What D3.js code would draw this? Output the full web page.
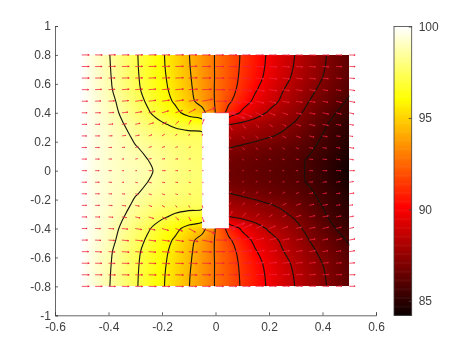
<!DOCTYPE html>
<html><head><meta charset="utf-8">
<script src="https://cdn.jsdelivr.net/npm/d3@7"></script>
<style>
html,body{margin:0;padding:0;background:#fff;overflow:hidden}
#wrap{position:relative;width:474px;height:355px}
canvas,svg{position:absolute;left:0;top:0}
#heat{filter:blur(0.6px)}
text{font-family:"Liberation Sans",Arial,sans-serif}
</style></head><body><div id="wrap"><canvas id="heat" width="474" height="355"></canvas><svg id="chart" width="474" height="355"></svg></div>
<script>
const xNodes=[-0.5,-0.45,-0.4,-0.35,-0.3,-0.25,-0.2,-0.15,-0.1,-0.05,0,0.05,0.1,0.15,0.2,0.25,0.3,0.35,0.4,0.45,0.5];
const yNodes=[0.8,0.72,0.64,0.56,0.48,0.4,0.32,0.24,0.16,0.08,0,-0.08,-0.16,-0.24,-0.32,-0.4,-0.48,-0.56,-0.64,-0.72,-0.8];
const temperature=[
[100,99.3,98.67,97.99,97.31,96.6,95.88,95.12,94.35,93.59,92.82,92.07,91.32,90.57,89.85,89.2,88.54,87.95,87.34,86.75,86.2],
[100,99.3,98.7,98.01,97.33,96.63,95.91,95.16,94.39,93.6,92.82,92.05,91.28,90.52,89.79,89.12,88.47,87.87,87.28,86.7,86.15],
[100,99.3,98.74,98.06,97.37,96.68,95.98,95.23,94.46,93.64,92.82,92.01,91.21,90.41,89.66,88.97,88.33,87.75,87.16,86.65,86.14],
[100,99.35,98.8,98.12,97.44,96.76,96.08,95.34,94.55,93.7,92.8,91.94,91.04,90.11,89.38,88.66,88.06,87.46,86.9,86.45,85.93],
[100,99.46,98.92,98.33,97.65,96.97,96.28,95.57,94.73,93.81,92.8,91.67,90.6,89.72,89.05,88.4,87.78,87.16,86.65,86.14,85.6],
[100,99.5,99,98.48,97.87,97.26,96.65,96.04,95.32,94.8,92.84,90.93,89.8,89.1,88.43,87.93,87.42,86.87,86.3,85.73,85.3],
[100,99.52,99.1,98.67,98.23,97.77,97.31,96.95,96.72,96.55,null,88.65,88.34,88.03,87.72,87.41,87.05,86.5,85.95,85.4,85],
[100,99.55,99.18,98.85,98.45,98.1,97.85,97.65,97.55,97.5,null,87.9,87.7,87.5,87.25,87,86.6,86.15,85.7,85.25,84.9],
[100,99.55,99.2,98.95,98.65,98.42,98.15,97.95,97.75,97.65,null,87.2,87,86.8,86.6,86.4,86.2,85.9,85.5,85.15,84.7],
[100,99.55,99.22,98.98,98.82,98.58,98.32,98.05,97.85,97.75,null,86.7,86.6,86.45,86.3,86.15,85.95,85.65,85.3,84.9,84.5],
[100,99.55,99.25,99.02,98.88,98.72,98.35,98.1,97.9,97.8,null,86.6,86.5,86.35,86.2,86.05,85.9,85.65,85.25,84.8,84.3],
[100,99.55,99.22,98.98,98.82,98.58,98.32,98.05,97.85,97.75,null,86.7,86.6,86.45,86.3,86.15,85.95,85.65,85.3,84.9,84.5],
[100,99.55,99.2,98.95,98.65,98.42,98.15,97.95,97.75,97.65,null,87.2,87,86.8,86.6,86.4,86.2,85.9,85.5,85.15,84.7],
[100,99.55,99.18,98.85,98.45,98.1,97.85,97.65,97.55,97.5,null,87.9,87.7,87.5,87.25,87,86.6,86.15,85.7,85.25,84.9],
[100,99.52,99.1,98.67,98.23,97.77,97.31,96.95,96.72,96.55,null,88.65,88.34,88.03,87.72,87.41,87.05,86.5,85.95,85.4,85],
[100,99.5,99,98.48,97.87,97.26,96.65,96.04,95.32,94.8,92.84,90.93,89.8,89.1,88.43,87.93,87.42,86.87,86.3,85.73,85.3],
[100,99.46,98.92,98.33,97.65,96.97,96.28,95.57,94.73,93.81,92.8,91.67,90.6,89.72,89.05,88.4,87.78,87.16,86.65,86.14,85.6],
[100,99.35,98.8,98.12,97.44,96.76,96.08,95.34,94.55,93.7,92.8,91.94,91.04,90.11,89.38,88.66,88.06,87.46,86.9,86.45,85.93],
[100,99.3,98.74,98.06,97.37,96.68,95.98,95.23,94.46,93.64,92.82,92.01,91.21,90.41,89.66,88.97,88.33,87.75,87.16,86.65,86.14],
[100,99.3,98.7,98.01,97.33,96.63,95.91,95.16,94.39,93.6,92.82,92.05,91.28,90.52,89.79,89.12,88.47,87.87,87.28,86.7,86.15],
[100,99.3,98.67,97.99,97.31,96.6,95.88,95.12,94.35,93.59,92.82,92.07,91.32,90.57,89.85,89.2,88.54,87.95,87.34,86.75,86.2]
];
const contourLevels=[85.73,87.16,88.59,90.02,91.45,92.88,94.31,95.74,97.17,98.6];
const hole=[-0.05,0.05,-0.4,0.4];
const xTicks=[-0.6,-0.4,-0.2,0,0.2,0.4,0.6];
const yTicks=[-1,-0.8,-0.6,-0.4,-0.2,0,0.2,0.4,0.6,0.8,1];
const colorTicks=[85,90,95,100];
const colorDomain=[84.2,100];
const arrowScale=0.002;

const x=d3.scaleLinear().domain([-0.6,0.6]).range([55,376]);
const y=d3.scaleLinear().domain([-1,1]).range([315.3,26]);
const cy=d3.scaleLinear().domain(colorDomain).range([315.5,26.5]);
const hot=d3.scaleLinear().domain([0,0.375,0.75,1]).range(["#0b0000","#ff0000","#ffff00","#ffffff"]).clamp(true);
const tNorm=d3.scaleLinear().domain(colorDomain).range([0,1]);
const textCol="#404040";

const nx=xNodes.length,ny=yNodes.length;
const filled=temperature.map(r=>r.map((v,i)=>v===null?(r[i-1]+r[i+1])/2:v));

const ctx=document.getElementById("heat").getContext("2d");
const x0=Math.round(x(-0.5)),x1=Math.round(x(0.5)),y0=Math.round(y(0.8)),y1=Math.round(y(-0.8));
const img=ctx.createImageData(x1-x0,y1-y0);
for(let j=0;j<y1-y0;j++){for(let i=0;i<x1-x0;i++){
  const dx=x.invert(x0+i+0.5),dy=y.invert(y0+j+0.5);
  const u=Math.min(nx-1.001,Math.max(0,(dx+0.5)/0.05)),v=Math.min(ny-1.001,Math.max(0,(0.8-dy)/0.08));
  const iu=Math.floor(u),iv=Math.floor(v),fu=u-iu,fv=v-iv;
  const T=filled[iv][iu]*(1-fu)*(1-fv)+filled[iv][iu+1]*fu*(1-fv)+filled[iv+1][iu]*(1-fu)*fv+filled[iv+1][iu+1]*fu*fv;
  const c=d3.rgb(hot(tNorm(T))),k=(j*(x1-x0)+i)*4;
  img.data[k]=c.r;img.data[k+1]=c.g;img.data[k+2]=c.b;img.data[k+3]=255;
}}
ctx.putImageData(img,x0,y0);

const svg=d3.select("#chart");
const defs=svg.append("defs");
defs.append("clipPath").attr("id","plotClip").append("rect")
  .attr("x",x(-0.5)).attr("y",y(0.8)).attr("width",x(0.5)-x(-0.5)).attr("height",y(-0.8)-y(0.8));
defs.append("filter").attr("id","soft").attr("x","-5%").attr("y","-5%").attr("width","110%").attr("height","110%")
  .append("feGaussianBlur").attr("stdDeviation",0.35);

const px=nx+2,py=ny+2,flat=new Array(px*py);
for(let r=0;r<py;r++){for(let c=0;c<px;c++){
  const cc=Math.min(nx-1,Math.max(0,c-1)),rr=Math.min(ny-1,Math.max(0,r-1));
  let v=filled[rr][cc];
  if(c===0)v+=filled[rr][0]-filled[rr][1];
  if(c===px-1)v+=filled[rr][nx-1]-filled[rr][nx-2];
  if(r===0)v+=filled[0][cc]-filled[1][cc];
  if(r===py-1)v+=filled[ny-1][cc]-filled[ny-2][cc];
  flat[r*px+c]=v;
}}
const contours=d3.contours().size([px,py]).thresholds(contourLevels)(flat);
const lineGen=d3.line().curve(d3.curveCatmullRomClosed.alpha(0.5))
  .x(p=>x(-0.5+0.05*(p[0]-1.5))).y(p=>y(0.8-0.08*(p[1]-1.5)));
const cg=svg.append("g").attr("clip-path","url(#plotClip)").append("g").attr("filter","url(#soft)");
contours.forEach(ct=>ct.coordinates.forEach(poly=>poly.forEach(ring=>{
  cg.append("path").attr("d",lineGen(ring.slice(0,-1))).attr("fill","none")
    .attr("stroke","#14140c").attr("stroke-width",1.1);
})));

svg.append("rect").attr("x",x(hole[0])).attr("y",y(hole[3]))
  .attr("width",x(hole[1])-x(hole[0])).attr("height",y(hole[2])-y(hole[3])).attr("fill","#fff");

function grad(r,c){
  const val=(a,b)=>(a<0||b<0||a>=ny||b>=nx)?null:temperature[a][b];
  const L=val(r,c-1),R=val(r,c+1),U=val(r-1,c),D=val(r+1,c),C=temperature[r][c];
  const gx=(L!==null&&R!==null)?(R-L)/0.1:(R!==null?(R-C)/0.05:(L!==null?(C-L)/0.05:0));
  const gy=(U!==null&&D!==null)?(U-D)/0.16:(U!==null?(U-C)/0.08:(D!==null?(C-D)/0.08:0));
  return [gx,gy];
}
const qg=svg.append("g").attr("fill","none").attr("stroke","#f0203c").attr("stroke-width",0.95)
  .attr("stroke-opacity",0.8).attr("filter","url(#soft)");
yNodes.forEach((yv,r)=>xNodes.forEach((xv,c)=>{
  if(temperature[r][c]===null)return;
  const g=grad(r,c);
  const ex=xv-arrowScale*g[0],ey=yv-arrowScale*g[1];
  const X0=x(xv),Y0=y(yv),X1=x(ex),Y1=y(ey);
  const a=Math.atan2(Y1-Y0,X1-X0),len=Math.hypot(X1-X0,Y1-Y0),h=len*0.22;
  const p=d3.path();
  p.moveTo(X0,Y0);p.lineTo(X1,Y1);
  p.moveTo(X1-h*Math.cos(a-0.3),Y1-h*Math.sin(a-0.3));p.lineTo(X1,Y1);
  p.lineTo(X1-h*Math.cos(a+0.3),Y1-h*Math.sin(a+0.3));
  qg.append("path").attr("d",p.toString());
}));

const fmt=d=>String(d);
const gx=svg.append("g").attr("transform",`translate(0,${y(-1)})`)
  .call(d3.axisBottom(x).tickValues(xTicks).tickFormat(fmt).tickSize(-3).tickPadding(7));
const gy=svg.append("g").attr("transform",`translate(${x(-0.6)},0)`)
  .call(d3.axisLeft(y).tickValues(yTicks).tickFormat(fmt).tickSize(-3).tickPadding(4));
[gx,gy].forEach(g=>{
  g.selectAll("path,line").attr("stroke",textCol).attr("stroke-width",0.8);
  g.selectAll("text").attr("fill",textCol).attr("font-size",12).attr("font-family",'"Liberation Sans",Arial,sans-serif');
});

const levels=d3.range(256);
const barX=394,barW=17.7;
const bandH=(cy(colorDomain[0])-cy(colorDomain[1]))/256;
svg.append("g").selectAll("rect").data(levels).join("rect")
  .attr("x",barX).attr("width",barW)
  .attr("y",d=>cy(colorDomain[0])-(d+1)*bandH-0.3).attr("height",bandH+0.6)
  .attr("fill",d=>hot((d+0.5)/256));
svg.append("rect").attr("x",barX).attr("y",cy(colorDomain[1])).attr("width",barW)
  .attr("height",cy(colorDomain[0])-cy(colorDomain[1])).attr("fill","none").attr("stroke",textCol).attr("stroke-width",0.8);
const gc=svg.append("g").attr("transform",`translate(${barX+barW},0)`)
  .call(d3.axisRight(cy).tickValues(colorTicks).tickFormat(fmt).tickSize(-3).tickPadding(7));
gc.select("path").remove();
gc.selectAll("line").attr("stroke",textCol).attr("stroke-width",0.8);
gc.selectAll("text").attr("fill",textCol).attr("font-size",12).attr("font-family",'"Liberation Sans",Arial,sans-serif');
</script></body></html>
